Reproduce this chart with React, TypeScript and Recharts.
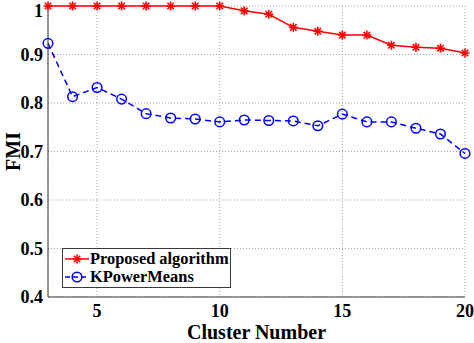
import React from 'react';
import { LineChart, Line, XAxis, YAxis, CartesianGrid } from 'recharts';

const clusterNumbers = [3, 4, 5, 6, 7, 8, 9, 10, 11, 12, 13, 14, 15, 16, 17, 18, 19, 20];
const proposedFMI = [1, 1, 1, 1, 1, 1, 1, 1, 0.99, 0.983, 0.956, 0.948, 0.94, 0.94, 0.919, 0.915, 0.913, 0.903];
const kPowerMeansFMI = [0.923, 0.813, 0.832, 0.808, 0.778, 0.769, 0.767, 0.761, 0.765, 0.764, 0.763, 0.753, 0.777, 0.761, 0.761, 0.748, 0.736, 0.696];
const xTicks = [5, 10, 15, 20];
const yTicks = [0.4, 0.5, 0.6, 0.7, 0.8, 0.9, 1];
const seriesNames = ['Proposed algorithm', 'KPowerMeans'];

const data = clusterNumbers.map((c, i) => ({
  cluster: c,
  proposed: proposedFMI[i],
  kpm: kPowerMeansFMI[i],
}));

const RED = '#ff0000';
const BLUE = '#0000ff';
const AXIS = '#3a3a3a';
const FONT = '"Liberation Serif", "Times New Roman", serif';

const Asterisk = (props: any) => {
  const { cx, cy } = props;
  if (cx == null || cy == null) return null;
  const r = 4.5;
  const d = r * 0.72;
  return (
    <g stroke={RED} strokeWidth={1.6}>
      <line x1={cx - r} y1={cy} x2={cx + r} y2={cy} />
      <line x1={cx} y1={cy - r} x2={cx} y2={cy + r} />
      <line x1={cx - d} y1={cy - d} x2={cx + d} y2={cy + d} />
      <line x1={cx - d} y1={cy + d} x2={cx + d} y2={cy - d} />
    </g>
  );
};

const OpenCircle = (props: any) => {
  const { cx, cy } = props;
  if (cx == null || cy == null) return null;
  return <circle cx={cx} cy={cy} r={4.8} fill="none" stroke={BLUE} strokeWidth={1.5} />;
};

const LegendBox = () => (
  <div
    style={{
      position: 'absolute',
      left: 62,
      top: 248,
      border: `1px solid ${AXIS}`,
      background: '#fff',
      width: 169,
      height: 40,
      boxSizing: 'border-box',
      fontFamily: FONT,
      fontWeight: 'bold',
      fontSize: 16.4,
      color: '#000',
      paddingTop: 1,
    }}
  >
    {seriesNames.map((name, i) => (
      <div key={name} style={{ display: 'flex', alignItems: 'center', height: 18, lineHeight: '18px', whiteSpace: 'nowrap' }}>
        <svg width={26} height={14} style={{ marginLeft: 1, flex: 'none' }}>
          {i === 0 ? (
            <>
              <line x1={1} y1={7} x2={25} y2={7} stroke={RED} strokeWidth={1.5} />
              <Asterisk cx={13} cy={7} />
            </>
          ) : (
            <>
              <line x1={1} y1={7} x2={25} y2={7} stroke={BLUE} strokeWidth={1.5} strokeDasharray="5 3" />
              <OpenCircle cx={13} cy={7} />
            </>
          )}
        </svg>
        <span>{name}</span>
      </div>
    ))}
  </div>
);

const YLabel = (props: any) => {
  const { viewBox } = props;
  const cy = viewBox.y + viewBox.height / 2;
  const cx = 13;
  return (
    <text
      x={cx}
      y={cy}
      transform={`rotate(-90, ${cx}, ${cy})`}
      textAnchor="middle"
      dominantBaseline="central"
      fontFamily={FONT}
      fontWeight="bold"
      fontSize={20}
      fill="#000"
    >
      FMI
    </text>
  );
};

export default function App() {
  const tickStyle = { fontFamily: FONT, fontWeight: 'bold', fontSize: 18, fill: '#000' };
  return (
    <div style={{ position: 'absolute', left: 0, top: 0, width: 474, height: 343 }}>
      <LineChart width={474} height={343} data={data} margin={{ top: 6, right: 9, bottom: 0, left: 0 }}>
        <CartesianGrid stroke="#8a8a8a" strokeDasharray="1 2" strokeWidth={0.8} />
        <XAxis
          dataKey="cluster"
          type="number"
          domain={[3, 20]}
          ticks={xTicks}
          height={46}
          tickSize={0}
          tickMargin={7}
          axisLine={{ stroke: AXIS, strokeWidth: 1 }}
          tickLine={false}
          tick={tickStyle}
          label={{
            value: 'Cluster Number',
            position: 'insideBottom',
            offset: 4,
            style: { fontFamily: FONT, fontWeight: 'bold', fontSize: 20, fill: '#000' },
          }}
        />
        <XAxis
          xAxisId="top"
          orientation="top"
          dataKey="cluster"
          type="number"
          domain={[3, 20]}
          height={0}
          tick={false}
          tickLine={false}
          axisLine={{ stroke: AXIS, strokeWidth: 1 }}
        />
        <YAxis
          type="number"
          domain={[0.4, 1]}
          ticks={yTicks}
          width={48}
          tickSize={0}
          tickMargin={5}
          axisLine={{ stroke: AXIS, strokeWidth: 1 }}
          tickLine={false}
          tick={tickStyle}
          tickFormatter={(v: number) => (v === 1 ? '1' : v.toFixed(1))}
          label={<YLabel />}
        />
        <YAxis
          yAxisId="right"
          orientation="right"
          type="number"
          domain={[0.4, 1]}
          width={0}
          tick={false}
          tickLine={false}
          axisLine={{ stroke: AXIS, strokeWidth: 1 }}
        />
        <Line
          name={seriesNames[0]}
          dataKey="proposed"
          stroke={RED}
          strokeWidth={1.5}
          dot={<Asterisk />}
          activeDot={false}
          isAnimationActive={false}
        />
        <Line
          name={seriesNames[1]}
          dataKey="kpm"
          stroke={BLUE}
          strokeWidth={1.5}
          strokeDasharray="6 4"
          dot={<OpenCircle />}
          activeDot={false}
          isAnimationActive={false}
        />
      </LineChart>
      <LegendBox />
    </div>
  );
}
